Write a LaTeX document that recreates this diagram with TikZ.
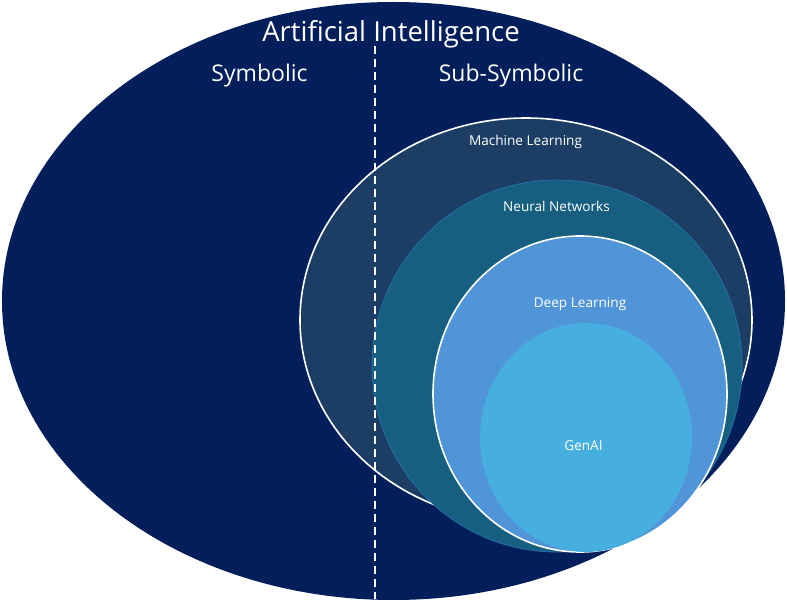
\documentclass[tikz,border=0pt]{standalone}
\usepackage{fontspec}
\setmainfont{Open Sans}
\usetikzlibrary{shapes.geometric}
\definecolor{aiNavy}{RGB}{2,31,91}
\definecolor{mlFill}{RGB}{28,62,100}
\definecolor{nnFill}{RGB}{23,95,128}
\definecolor{nnEdge}{RGB}{40,110,170}
\definecolor{dlFill}{RGB}{80,149,216}
\definecolor{genFill}{RGB}{70,175,224}
\tikzset{
  blob/.style={ellipse, inner sep=0pt, outer sep=0pt},
  lbl/.style={text=white, inner sep=0pt, anchor=base},
  smalllbl/.style={lbl, font=\fontsize{13.6}{16}\selectfont},
  midlbl/.style={lbl, font=\fontsize{23}{27}\selectfont},
}
\begin{document}
\begin{tikzpicture}[x=1pt,y=-1pt]
\useasboundingbox (0,0) rectangle (787,612);
\node[blob, fill=aiNavy, minimum width=783pt, minimum height=598pt] (ai) at (393.5,301) {};
\node[blob, fill=mlFill, draw=white, line width=1.6pt, minimum width=452pt, minimum height=404pt] (ml) at (526,320) {};
\node[blob, fill=nnFill, draw=nnEdge, line width=0.8pt, minimum width=370pt, minimum height=372pt] (nn) at (557,366) {};
\node[blob, fill=dlFill, draw=white, line width=1.6pt, minimum width=294pt, minimum height=316pt] (dl) at (580,394) {};
\node[blob, fill=genFill, minimum width=212pt, minimum height=229pt] (gen) at (586,437.5) {};
\coordinate (dashTop) at (375,46);
\coordinate (dashBot) at (375,599);
\draw[white, line width=1.4pt, dash pattern=on 8pt off 5pt] (dashTop) -- (dashBot);
\node[lbl, font=\fontsize{27.5}{32}\selectfont] (tAI) at (391,42) {Artificial Intelligence};
\node[midlbl] (tSym) at (259.5,82) {Symbolic};
\node[midlbl] (tSub) at (511,82) {Sub-Symbolic};
\node[smalllbl] (tML) at (525.5,145.5) {Machine Learning};
\node[smalllbl] (tNN) at (556.5,211.5) {Neural Networks};
\node[smalllbl] (tDL) at (580,307.5) {Deep Learning};
\node[smalllbl] (tGen) at (583.5,450) {GenAI};
\end{tikzpicture}
\end{document}
